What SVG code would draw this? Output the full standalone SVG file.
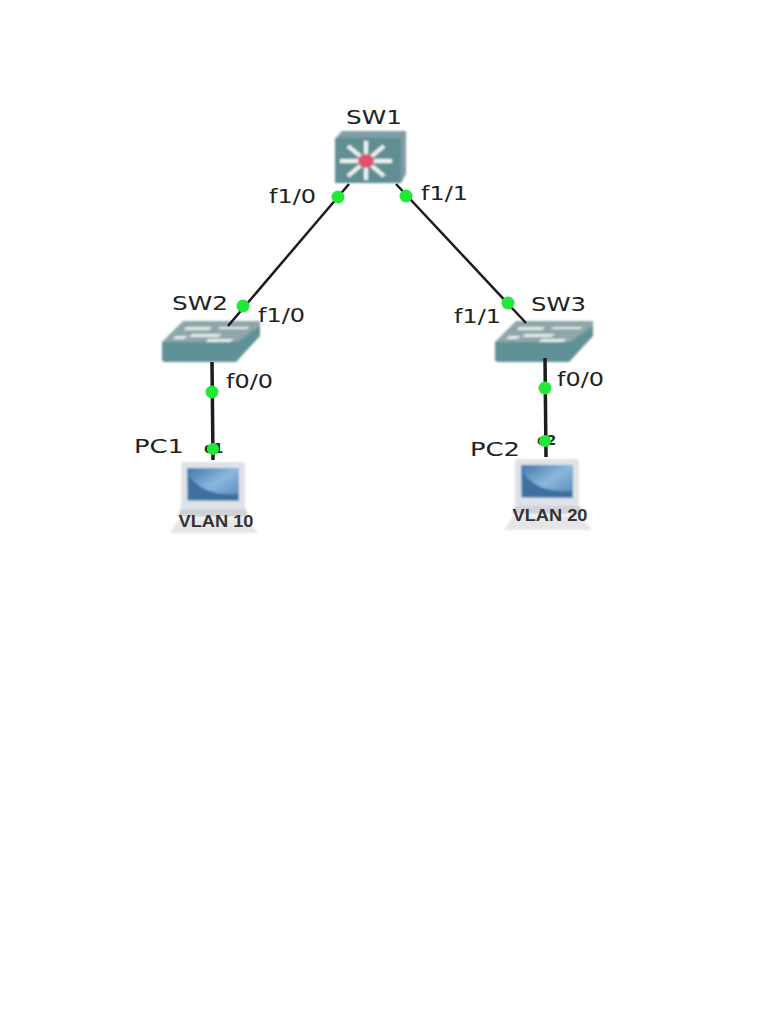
<svg xmlns="http://www.w3.org/2000/svg" width="768" height="1024" viewBox="0 0 768 1024">
<defs>
<style>
text{font-family:"DejaVu Sans",sans-serif;font-size:19px;fill:#222}
.v{font-family:"Liberation Sans",sans-serif;font-size:16px;font-weight:bold;fill:#333;text-anchor:middle}
.p{font-size:14px;font-weight:bold;fill:#1c3a20}
.l{stroke:#1c1c1c;stroke-width:2.5;fill:none}
.t{stroke:#1c1c1c;stroke-width:3.5;fill:none}
.d{fill:#22e83a}
.top{fill:#8fa6a8}
.front{fill:#5f9296}
.stripe{fill:#e4ecec}
.soft{filter:url(#b)}
</style>
<filter id="b" x="-10%" y="-10%" width="120%" height="120%"><feGaussianBlur stdDeviation="0.9"/></filter>
<linearGradient id="scr" x1="0" y1="0" x2="1" y2="1"><stop offset="0" stop-color="#3f78ad"/><stop offset="0.5" stop-color="#8cb6dc"/><stop offset="1" stop-color="#4f86b8"/></linearGradient>
<g id="sw"><path class="top" d="M0 21 L21 0 H98 L98 12 L75 40 H0Z"/><path class="front" d="M0 21 H75 L98 5 V15 L74 41 H2 L0 38Z"/><path class="stripe" d="M24 6H50L47 9H22ZM58 6H88L85 8H56ZM30 13H60L56 16H27ZM46 18H72L68 21H44ZM14 15H26L22 18H11Z"/></g>
<g id="pc"><path fill="#e6e6e7" d="M-42 72 L-33 58 H34 L46 72Z"/><rect x="-31" y="1" width="64" height="47" rx="2" fill="#dfe3e8"/><rect x="-25" y="7" width="52" height="33" fill="url(#scr)"/><path d="M-24 14 C-10 32 8 34 26 33 V39 H-24Z" fill="#3d6f9f"/><path fill="#cfd2d7" d="M-32 48 H34 L36 56 H-34Z"/></g>
</defs>
<rect width="768" height="1024" fill="#fff"/>
<g id="SW1" class="soft">
<path fill="#7f9da6" d="M335 139 L342 131 H406 V174 L401 183 H335Z"/>
<rect x="335" y="138" width="66" height="45" fill="#5f8f92"/>
<g stroke="#eef3f3" stroke-width="4"><line x1="340" y1="161" x2="392" y2="161"/><line x1="366" y1="141" x2="366" y2="180"/><line x1="348" y1="146" x2="384" y2="176"/><line x1="384" y1="146" x2="348" y2="176"/></g>
<ellipse cx="366" cy="161" rx="8" ry="7" fill="#e0506e"/>
</g>
<g id="SW2"><use class="soft" href="#sw" x="162" y="321"/></g>
<g id="SW3"><use class="soft" href="#sw" x="495" y="321"/></g>
<g id="PC1"><use class="soft" href="#pc" x="212" y="461"/><text class="v" x="216" y="527" textLength="75" lengthAdjust="spacingAndGlyphs">VLAN 10</text></g>
<g id="PC2"><use class="soft" href="#pc" x="546" y="458"/><text class="v" x="550" y="521" textLength="75" lengthAdjust="spacingAndGlyphs">VLAN 20</text></g>
<g id="labels">
<text x="346" y="124" textLength="56" lengthAdjust="spacingAndGlyphs">SW1</text>
<text x="172" y="310" textLength="56" lengthAdjust="spacingAndGlyphs">SW2</text>
<text x="531" y="311" textLength="55" lengthAdjust="spacingAndGlyphs">SW3</text>
<text x="134" y="453" textLength="50" lengthAdjust="spacingAndGlyphs">PC1</text>
<text x="470" y="456" textLength="50" lengthAdjust="spacingAndGlyphs">PC2</text>
<text x="269" y="203" textLength="47" lengthAdjust="spacingAndGlyphs">f1/0</text>
<text x="421" y="200" textLength="47" lengthAdjust="spacingAndGlyphs">f1/1</text>
<text x="258" y="322" textLength="47" lengthAdjust="spacingAndGlyphs">f1/0</text>
<text x="454" y="323" textLength="47" lengthAdjust="spacingAndGlyphs">f1/1</text>
<text x="226" y="388" textLength="47" lengthAdjust="spacingAndGlyphs">f0/0</text>
<text x="557" y="386" textLength="47" lengthAdjust="spacingAndGlyphs">f0/0</text>
<text class="p" x="204" y="453">e1</text>
<text class="p" x="537" y="445">e2</text>
</g>
<g id="connectors">
<line class="l" x1="349" y1="184" x2="228" y2="326"/>
<line class="l" x1="396" y1="184" x2="526" y2="323"/>
<line class="t" x1="212" y1="362" x2="213" y2="460"/>
<line class="t" x1="545" y1="358" x2="546" y2="457"/>
<circle class="d" cx="338" cy="197" r="6.5"/><circle class="d" cx="406" cy="196" r="6.5"/>
<circle class="d" cx="243" cy="306" r="6.5"/><circle class="d" cx="508" cy="303" r="6.5"/>
<circle class="d" cx="212" cy="392" r="6.5"/><circle class="d" cx="545" cy="388" r="6.5"/>
<circle class="d" cx="213" cy="449" r="6"/><circle class="d" cx="545" cy="441" r="6"/>
</g>
</svg>
